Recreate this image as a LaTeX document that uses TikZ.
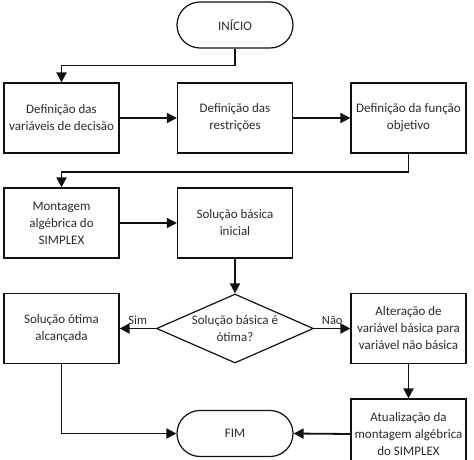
\documentclass[tikz,border=0pt]{standalone}
\usepackage{fontspec}
\setmainfont{Carlito}
\usetikzlibrary{arrows.meta,calc,positioning,shapes.geometric}
\definecolor{ChartInk}{HTML}{111111}
\definecolor{ChartText}{HTML}{2B2B2B}
\tikzset{
  every node/.style={font=\fontsize{13}{17}\selectfont, text=ChartText},
  process/.style={draw=ChartInk, line width=1.2pt, minimum width=115pt, minimum height=70pt, align=center, inner sep=0pt},
  terminal/.style={draw=ChartInk, line width=1.2pt, rounded corners=23pt, minimum width=116pt, minimum height=46pt},
  decision/.style={diamond, draw=ChartInk, line width=1.2pt, aspect=2.28, inner sep=0pt, minimum width=157pt, minimum height=69pt, align=center},
  flow/.style={-{Triangle[length=10pt,width=10pt]}, draw=ChartInk, line width=1.8pt},
  answer/.style={font=\fontsize{12.5}{15}\selectfont},
}

\begin{document}
\begin{tikzpicture}[x=1pt, y=-1pt]
  \useasboundingbox (0,0) rectangle (474,460);
  % Start and first row
  \node[terminal] (inicio) at (235,25) {INÍCIO};
  \node[process] (defvar) at (61.5,118) {Definição das\\variáveis de decisão};
  \node[process] (defres) at (235,118) {Definição das\\restrições};
  \node[process] (deffun) at (408.5,118) {Definição da função\\objetivo};
  % Second row
  \node[process] (montagem) at (61.5,223) {Montagem\\algébrica do\\SIMPLEX};
  \node[process] (solini) at (235,223) {Solução básica\\inicial};
  % Decision row
  \node[decision] (otimaq) at (235,328.5) {Solução básica é\\ótima?};
  \node[process] (solotima) at (61.5,328.5) {Solução ótima\\alcançada};
  \node[process] (alteracao) at (408.5,328.5) {Alteração de\\variável básica para\\variável não básica};
  % End
  \node[terminal] (fim) at (235,433.5) {FIM};
  \node[process] (atualizacao) at (408.5,434) {Atualização da\\montagem algébrica\\do SIMPLEX};
  % Connectors
  \draw[flow] (inicio.south) -- ++(0,17) -| (defvar.north);
  \draw[flow] (defvar) -- (defres);
  \draw[flow] (defres) -- (deffun);
  \draw[flow] (deffun.south) -- ++(0,18) -| (montagem.north);
  \draw[flow] (montagem) -- (solini);
  \draw[flow] (solini) -- (otimaq);
  \draw[flow] (otimaq.west) -- node[above, answer] (sim) {Sim} (solotima.east);
  \draw[flow] (otimaq.east) -- node[above, answer] (nao) {Não} (alteracao.west);
  \draw[flow] (alteracao) -- (atualizacao);
  \draw[flow] (solotima.south) |- (fim.west);
  \draw[flow] (atualizacao.west) -- (fim.east);
\end{tikzpicture}
\end{document}
